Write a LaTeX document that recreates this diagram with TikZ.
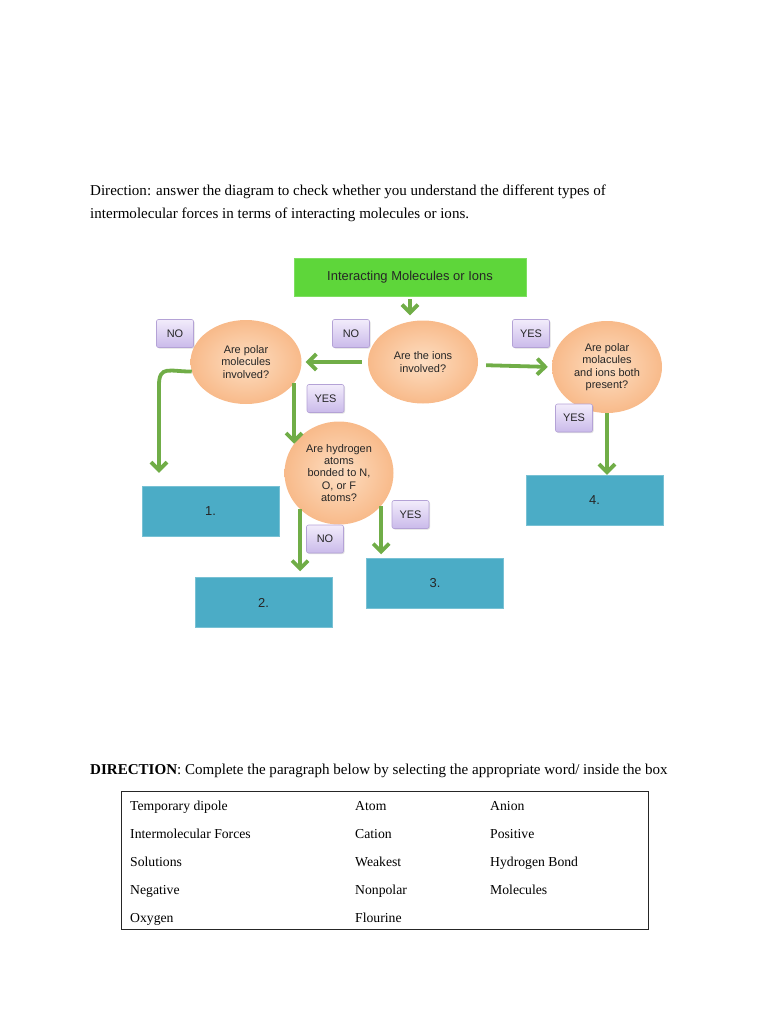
\documentclass[tikz,border=0pt]{standalone}
\usepackage{fontspec}
\setmainfont{Liberation Serif}
\newfontfamily\chartfont{Liberation Sans}
\usetikzlibrary{shapes.geometric,arrows.meta,shadows}
\definecolor{titlegreen}{RGB}{94,214,58}
\definecolor{arrowgreen}{RGB}{112,173,71}
\definecolor{peachin}{RGB}{253,222,194}
\definecolor{peachout}{RGB}{248,186,138}
\definecolor{tagtop}{RGB}{242,236,251}
\definecolor{tagbot}{RGB}{202,186,234}
\definecolor{tagline}{RGB}{180,162,214}
\definecolor{answerblue}{RGB}{75,172,198}

\begin{document}
\begin{tikzpicture}
  [x=1bp, y=-1bp,
   question/.style={ellipse, inner sep=0pt, inner color=peachin, outer color=peachout,
     align=center, font=\chartfont\fontsize{11}{12.4}\selectfont, text=black!85},
   answer/.style={rectangle, fill=answerblue, draw=answerblue!75!white,
     minimum width=137bp, minimum height=50bp, font=\chartfont\fontsize{13}{15}\selectfont, text=black!85},
   tag/.style={rectangle, rounded corners=2bp, top color=tagtop, bottom color=tagbot,
     draw=tagline, line width=0.6bp, minimum width=37bp, minimum height=28bp, inner sep=0pt,
     font=\chartfont\fontsize{11}{12}\selectfont, text=black!85,
     drop shadow={shadow xshift=1bp, shadow yshift=-1bp, opacity=0.25}},
   arr/.style={draw=arrowgreen, line width=3.8bp, -{Straight Barb[length=8bp, width=16bp]}},
   body/.style={anchor=base west, inner sep=0pt, font=\fontsize{15.1}{23}\selectfont},
   cell/.style={anchor=base west, inner sep=0pt, font=\fontsize{13.75}{16}\selectfont}]
  \useasboundingbox (0,0) rectangle (768,1024);

  % instructions
  \node[body] (intro) at (90,195) {Direction: answer the diagram to check whether you understand the different types of};
  \node[body] (intro2) at (90,218) {intermolecular forces in terms of interacting molecules or ions.};

  % flow chart
  \node[rectangle, fill=titlegreen, draw=titlegreen!80!white, minimum width=232bp, minimum height=38bp,
        font=\chartfont\fontsize{13}{15}\selectfont, text=black!85] (start) at (410,277) {Interacting Molecules or Ions};
  \node[question, minimum width=110bp, minimum height=83bp] (ions) at (423,362) {Are the ions\\involved?};
  \node[question, minimum width=111bp, minimum height=84bp] (polar) at (246,362) {Are polar\\molecules\\involved?};
  \node[question, minimum width=110bp, minimum height=92bp] (both) at (607,367) {Are polar\\molacules\\and ions both\\present?};
  \node[question, minimum width=109bp, minimum height=103bp] (hbond) at (339,473) {Are hydrogen\\atoms\\bonded to N,\\O, or F\\atoms?};

  \node[answer] (box1) at (210.5,511) {1.};
  \node[answer] (box2) at (263.5,602.5) {2.};
  \node[answer] (box3) at (435,583.5) {3.};
  \node[answer] (box4) at (594.5,500) {4.};

  \node[tag] (noA) at (175,333.5) {NO};
  \node[tag] (noB) at (351,333.5) {NO};
  \node[tag] (yesA) at (531,333.5) {YES};
  \node[tag] (yesB) at (325.5,398.5) {YES};
  \node[tag] (yesC) at (574,418) {YES};
  \node[tag] (noC) at (325,539) {NO};
  \node[tag] (yesD) at (410.5,514.5) {YES};

  \draw[arr, shorten <=3bp, shorten >=5bp] (start.south) -- (start.south |- ions.north);
  \draw[arr, shorten <=6bp, shorten >=4bp] (ions.west) -- (polar.east);
  \draw[arr, shorten <=8bp, shorten >=4bp] ([yshift=-3bp]ions.east) -- (both.west);
  \draw[arr] (polar.-24) -- (polar.-24 |- hbond.147);
  \draw[arr, shorten >=6bp] (hbond.-137) -- (hbond.-137 |- box2.north);
  \draw[arr, shorten >=4bp] (hbond.-38) -- (hbond.-38 |- box3.north);
  \draw[arr] (both.south) -- (both.south |- box4.north);
  \coordinate (bend) at (159,385);
  \draw[arr, shorten >=13bp] (polar.-170) .. controls +(-22,0) and +(0,-20) .. (bend) -- (bend |- box1.north);

  % word box
  \node[body] (direction) at (90,774) {\textbf{DIRECTION}: Complete the paragraph below by selecting the appropriate word/ inside the box};
  \node[draw=black!85, line width=0.8bp, minimum width=527bp, minimum height=138bp, inner sep=0pt] (wordbox) at (384.5,860) {};
  \foreach \word/\col/\row [count=\i] in
    {Temporary dipole/130/810, Atom/355/810, Anion/490/810,
     Intermolecular Forces/130/838, Cation/355/838, Positive/490/838,
     Solutions/130/866, Weakest/355/866, Hydrogen Bond/490/866,
     Negative/130/894, Nonpolar/355/894, Molecules/490/894,
     Oxygen/130/922, Flourine/355/922}
    \node[cell] (word\i) at (\col,\row) {\word};
\end{tikzpicture}
\end{document}
